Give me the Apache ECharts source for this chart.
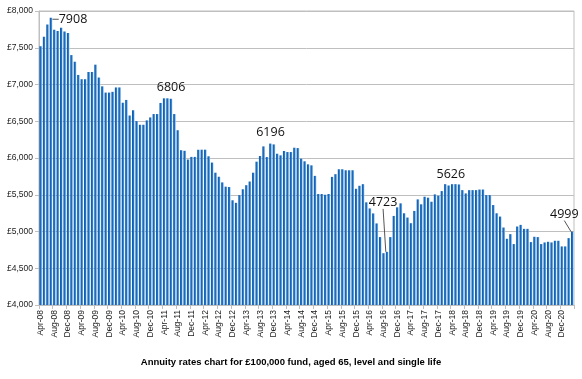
<!DOCTYPE html>
<html>
<head>
<meta charset="utf-8">
<script src="https://cdn.jsdelivr.net/npm/echarts@6/dist/echarts.min.js"></script>
<style>html,body{margin:0;padding:0;background:#fff;}#c{width:582px;height:379px;}</style>
</head>
<body>
<div id="c"></div>
<script>
// Month names and years for categories (Apr-08 .. Mar-21)
const monthNames = ['Jan','Feb','Mar','Apr','May','Jun','Jul','Aug','Sep','Oct','Nov','Dec'];
const categories = [];
for (let k = 0; k < 156; k++) {
  const m = (3 + k) % 12;
  const y = 8 + Math.floor((3 + k) / 12);
  categories.push(monthNames[m] + '-' + (y < 10 ? '0' + y : '' + y));
}

// Annuity income (GBP per year) for £100,000 fund
const rates2008_2010 = [7520,7648,7818,7908,7745,7728,7772,7720,7702,7400,7310,7130,
  7072,7072,7170,7170,7270,7095,6975,6890,6890,6900,6960,6960,
  6752,6790,6578,6650,6502,6452,6452,6512];
const rates2011_2013 = [6552,6598,6598,6749,6812,6812,6806,6598,6378,6106,6098,5979,
  6015,6015,6112,6113,6113,6023,5938,5800,5745,5668,5610,5605,
  5425,5390,5495,5575,5630,5680,5800,5950];
const rates2013_2016 = [6027,6158,6013,6196,6185,6058,6036,6095,6081,6081,6140,6135,
  5991,5955,5914,5900,5757,5510,5510,5500,5510,5743,5780,5847,
  5847,5833,5833,5833,5581,5622,5644,5397];
const rates2016_2018 = [5314,5246,5110,4924,4705,4723,4924,5212,5329,5383,5248,5190,
  5113,5280,5437,5370,5473,5460,5405,5505,5487,5550,5644,5626,
  5644,5644,5640,5563,5518,5563,5563,5563];
const rates2018_2021 = [5571,5571,5495,5495,5360,5248,5203,5054,4901,4964,4829,5068,
  5090,5036,5036,4856,4928,4924,4829,4851,4860,4851,4874,4874,
  4797,4797,4910,4999];
const rates = [].concat(rates2008_2010, rates2011_2013, rates2013_2016, rates2016_2018, rates2018_2021);

// Annotated bars
const labelIdx = [3, 38, 67, 101, 119, 155];

const yTicks = [4000, 4500, 5000, 5500, 6000, 6500, 7000, 7500, 8000];

const labelMove = {
  3:   {dx: 22, dy: 13},
  38:  {dx: 0, dy: 0},
  67:  {dx: 0, dy: 0},
  101: {dx: -4, dy: -38},
  119: {dx: 2, dy: 0},
  155: {dx: -8, dy: -6}
};

const data = rates.map((v, i) => {
  if (labelIdx.indexOf(i) >= 0) {
    return {
      value: v,
      label: {show: true},
      labelLine: {show: (i === 3 || i === 101 || i === 155), lineStyle: {color: '#555', width: 1}}
    };
  }
  return v;
});

const chart = echarts.init(document.getElementById('c'), null, {renderer: 'canvas'});
chart.setOption({
  animation: false,
  backgroundColor: '#fff',
  title: {
    text: 'Annuity rates chart for £100,000 fund, aged 65, level and single life',
    left: 'center',
    top: 352,
    textStyle: {fontFamily: 'Liberation Sans', fontSize: 9.5, fontWeight: 'bold', color: '#000'}
  },
  grid: {left: 39, right: 8, top: 11, bottom: 74, show: true, borderColor: '#bfbfbf', borderWidth: 1},
  xAxis: {
    type: 'category',
    data: categories,
    boundaryGap: true,
    axisLine: {show: true, lineStyle: {color: '#bfbfbf'}},
    axisTick: {show: true, interval: 3, length: 4, lineStyle: {color: '#bfbfbf'}},
    axisLabel: {interval: 3, rotate: 90, fontFamily: 'Liberation Sans', fontSize: 8.5, color: '#222', margin: 5}
  },
  yAxis: {
    type: 'value',
    min: yTicks[0],
    max: yTicks[yTicks.length - 1],
    interval: 500,
    axisLine: {show: true, lineStyle: {color: '#bfbfbf'}},
    axisTick: {show: true, length: 4, lineStyle: {color: '#bfbfbf'}},
    splitLine: {show: true, lineStyle: {color: '#bfbfbf', width: 1}},
    axisLabel: {
      fontFamily: 'Liberation Sans', fontSize: 8.5, color: '#222', margin: 6,
      formatter: v => '£' + v.toLocaleString('en-GB')
    }
  },
  series: [{
    type: 'bar',
    data: data,
    barCategoryGap: '25%',
    itemStyle: {
      color: new echarts.graphic.LinearGradient(0, 0, 1, 0, [
        {offset: 0, color: '#0c55a3'},
        {offset: 0.6, color: '#2273c6'},
        {offset: 1, color: '#a6d5f6'}
      ])
    },
    label: {
      show: false,
      position: 'top',
      distance: 5,
      fontFamily: 'Open Sans',
      fontSize: 12.5,
      color: '#111'
    },
    labelLayout: function (params) {
      const m = labelMove[params.dataIndex];
      if (!m) return {};
      return {dx: m.dx, dy: m.dy};
    }
  }]
});
</script>
</body>
</html>
